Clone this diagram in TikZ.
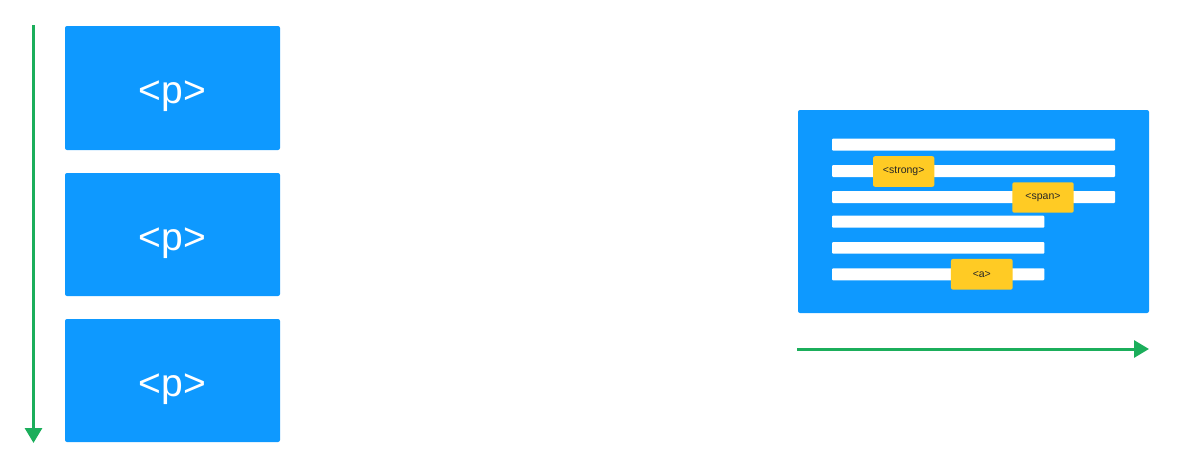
\documentclass[tikz,border=0pt]{standalone}
\usepackage{fontspec}
\setmainfont{Liberation Sans}
\usetikzlibrary{arrows.meta}
\definecolor{pblue}{HTML}{0E99FF}
\definecolor{tagyellow}{HTML}{FFCB24}
\definecolor{flowgreen}{HTML}{1BAE5B}
\begin{document}
\begin{tikzpicture}[x=1pt,y=-1pt,
  pbox/.style={fill=pblue,rounded corners=2pt,inner sep=0pt,text=white,font=\fontsize{39}{39}\selectfont,text height=31pt,text depth=0pt},
  textline/.style={fill=white,rounded corners=1pt},
  tagbox/.style={fill=tagyellow,rounded corners=2pt,inner sep=0pt,font=\fontsize{10.5}{10.5}\selectfont,text=black!85},
  flow/.style={draw=flowgreen,line width=3pt,-{Triangle[length=15pt,width=17pt]}}]
\useasboundingbox (0,0) rectangle (1178,472);
% vertical stacking of block paragraphs
\node[pbox,minimum width=215pt,minimum height=124pt] (p1) at (172.5,88) {<p>};
\node[pbox,minimum width=215pt,minimum height=123pt] (p2) at (172.5,234.5) {<p>};
\node[pbox,minimum width=215pt,minimum height=123pt] (p3) at (172.5,380.5) {<p>};
\coordinate (vstart) at (33.5,25);
\coordinate (vend) at (33.5,443);
\draw[flow] (vstart) -- (vend);
% inline content
\node[fill=pblue,rounded corners=2pt,minimum width=351pt,minimum height=203pt,inner sep=0pt] (para) at (973.5,211.5) {};
\fill[textline] (832,138.7) rectangle (1115,150.7);
\fill[textline] (832,165) rectangle (1115,177);
\fill[textline] (832,191) rectangle (1115,203);
\fill[textline] (832,215.7) rectangle (1044.3,227.7);
\fill[textline] (832,242) rectangle (1044.3,253.7);
\fill[textline] (832,268.3) rectangle (1044.3,280.3);
\node[tagbox,minimum width=61.3pt,minimum height=30.6pt] (strong) at (903.7,171.5) {<strong>};
\node[tagbox,minimum width=61.4pt,minimum height=30.4pt] (span) at (1043,197.5) {<span>};
\node[tagbox,minimum width=61.7pt,minimum height=30.7pt] (a) at (981.8,274.3) {<a>};
\coordinate (hstart) at (797,349);
\coordinate (hend) at (1149,349);
\draw[flow] (hstart) -- (hend);
\end{tikzpicture}
\end{document}
